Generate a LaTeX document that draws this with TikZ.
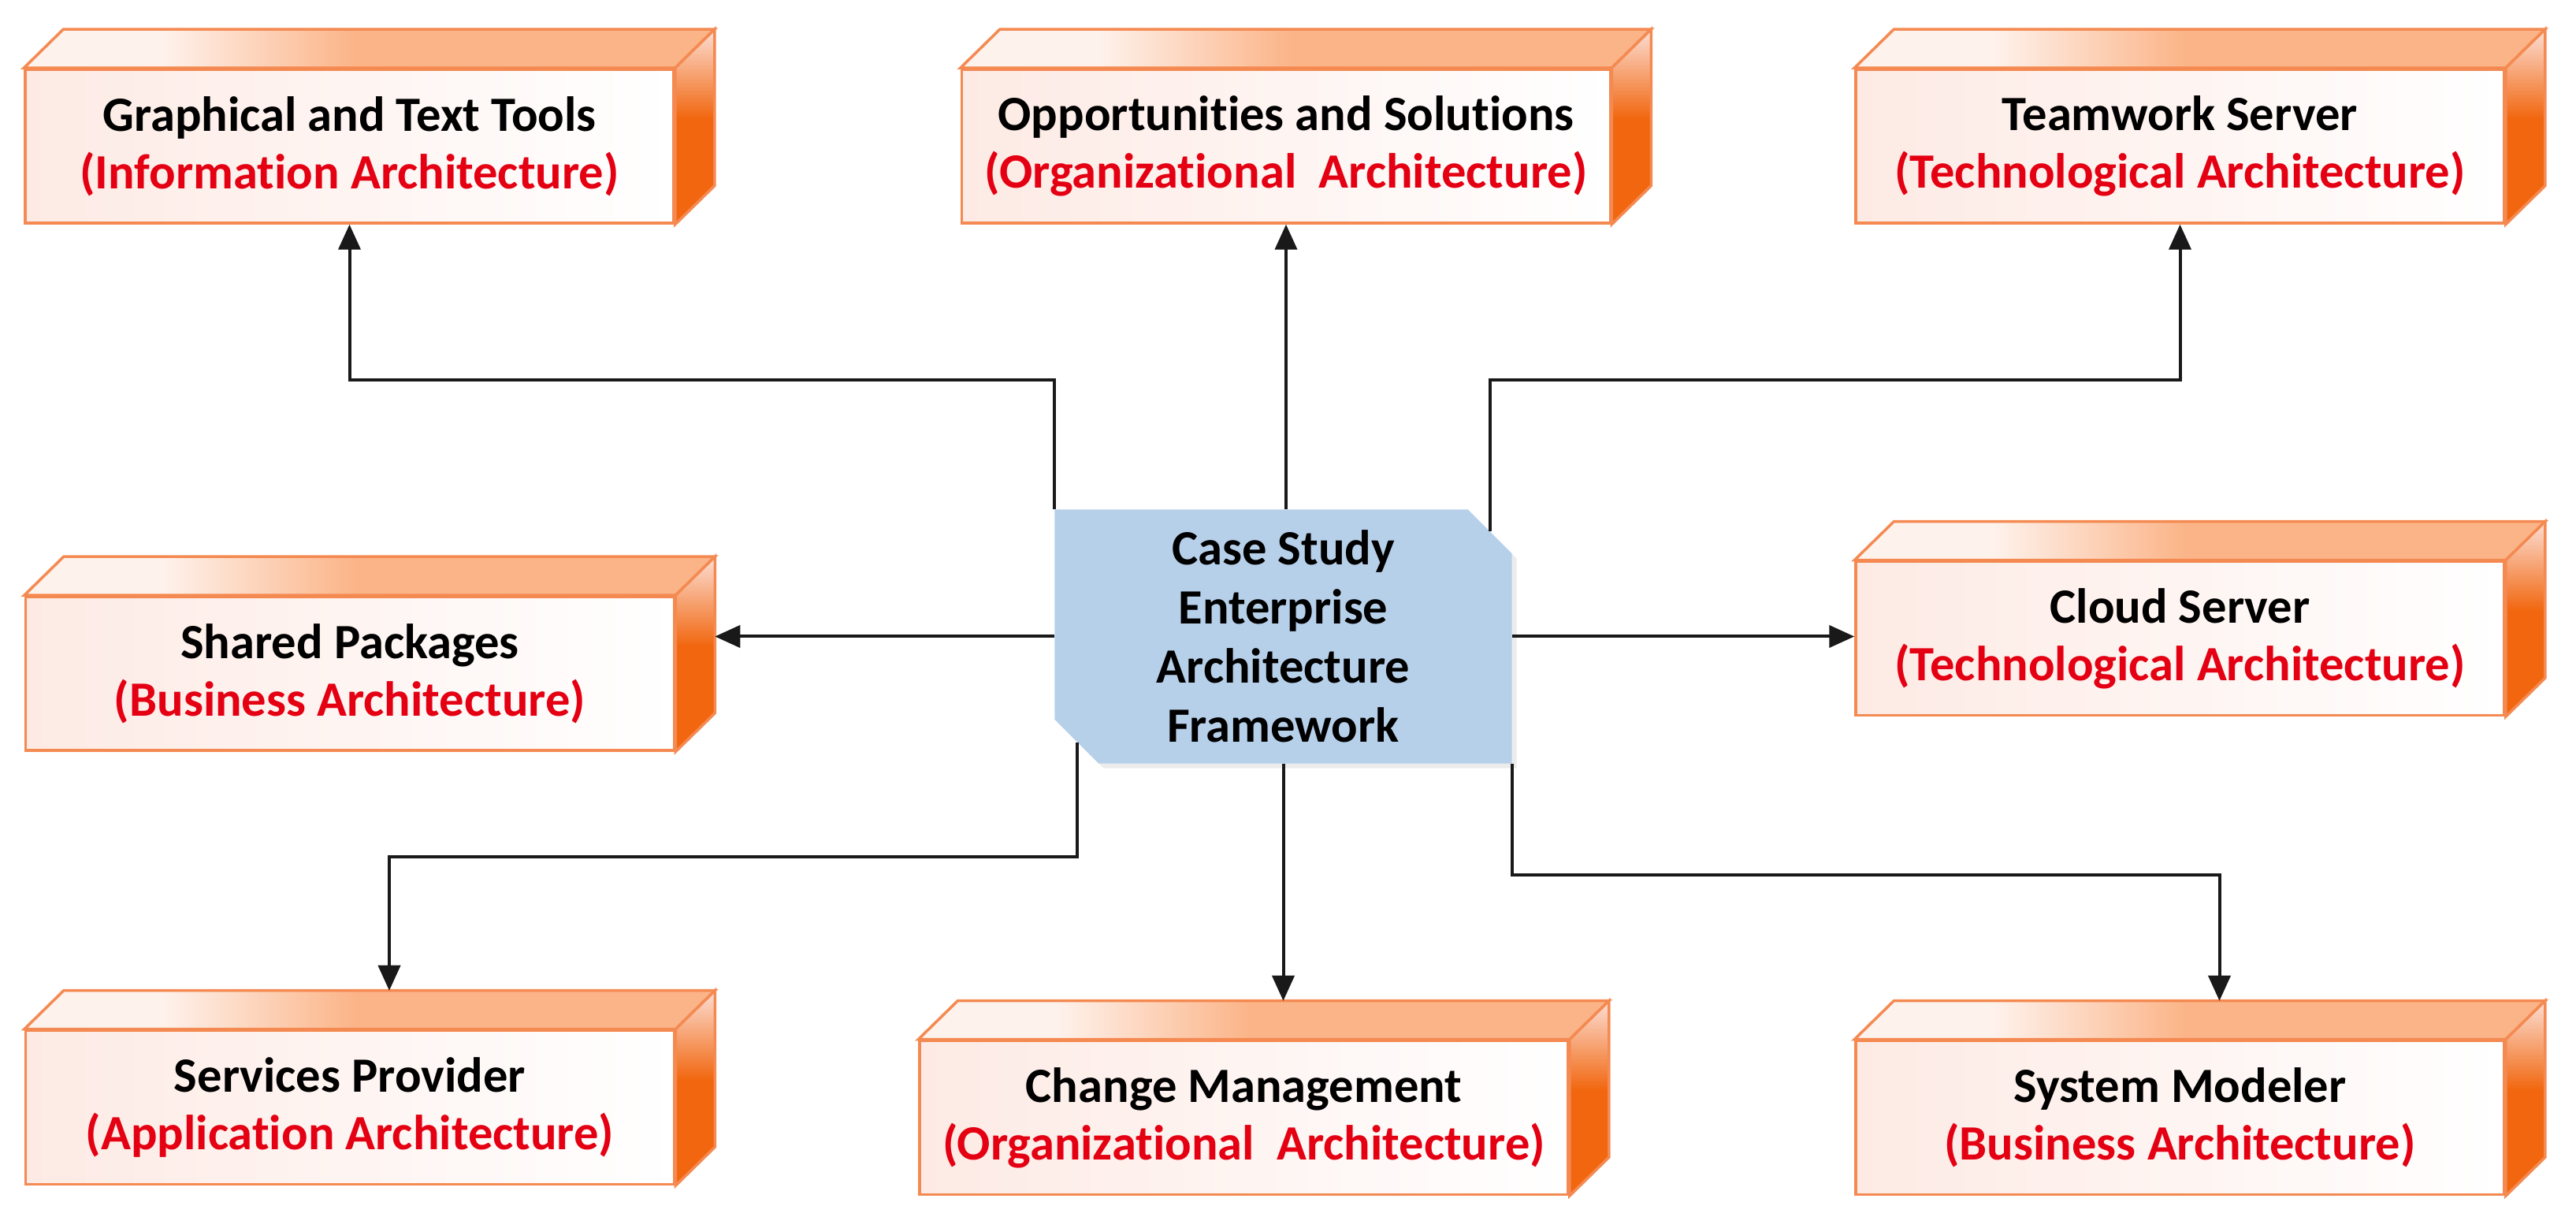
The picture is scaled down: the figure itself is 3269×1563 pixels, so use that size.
\documentclass[tikz,border=0pt]{standalone}
\usepackage{fontspec}
\setmainfont[Ligatures=NoCommon]{Carlito}
\usetikzlibrary{arrows.meta,backgrounds,shadows}
\definecolor{archred}{RGB}{228,0,18}
\definecolor{archedge}{RGB}{244,138,82}
\definecolor{archpeach}{RGB}{251,180,136}
\definecolor{archpale}{RGB}{254,242,236}
\definecolor{archdeep}{RGB}{241,102,14}
\definecolor{archpink}{RGB}{252,222,212}
\definecolor{archfront}{RGB}{253,234,228}
\definecolor{coreblue}{RGB}{183,208,234}
\definecolor{linkgray}{RGB}{25,25,25}
\pgfdeclarehorizontalshading{archtop}{100bp}{color(0bp)=(archpale); color(35bp)=(archpale); color(49bp)=(archpeach); color(100bp)=(archpeach)}
\pgfdeclareverticalshading{archside}{100bp}{color(0bp)=(archdeep); color(52bp)=(archdeep); color(75bp)=(archpink); color(100bp)=(archpink)}
\tikzset{
facebox/.style={draw=archedge, line width=0.35mm, left color=archfront, right color=white,
    minimum width=82.3mm, minimum height=19.5mm, inner sep=0pt, align=center,
    font=\fontsize{17.8pt}{20.8pt}\selectfont\bfseries},
topface/.style={draw=archedge, line width=0.35mm, shade, shading=archtop},
sideface/.style={draw=archedge, line width=0.35mm, shade, shading=archside},
corebox/.style={minimum width=57.9mm, minimum height=32.1mm, inner sep=0pt, align=center,
    font=\fontsize{17.8pt}{21.3pt}\selectfont\bfseries},
corefill/.style={fill=coreblue, drop shadow={opacity=0.15, shadow xshift=0.6mm, shadow yshift=-0.6mm}},
link/.style={draw=linkgray, line width=0.4mm, -{Triangle[length=3.2mm,width=2.8mm]}}
}
% box with top and side faces
\newcommand{\archnode}[5]{%
  \node[facebox] (#1) at (#2,#3) {#4\\\textcolor{archred}{#5}};
  \draw[topface] (#1.north west) -- ++(50,49) -- ([shift={(50,49)}]#1.north east) -- (#1.north east) -- cycle;
  \draw[sideface] (#1.north east) -- ++(50,49) -- ([shift={(50,49)}]#1.south east) -- (#1.south east) -- cycle;
  \coordinate (#1-top) at ([shift={(50,49)}]#1.north);
  \coordinate (#1-side) at ([shift={(50,0)}]#1.east);
}

\begin{document}
\begin{tikzpicture}[x=0.1mm, y=0.1mm]
\useasboundingbox (0,0) rectangle (3269,1563);
% centre
\node[corebox] (core) at (1628.5,755.5) {Case Study\\Enterprise\\Architecture\\Framework};
\begin{scope}[on background layer]
\fill[corefill] (core.north west) -- ([shift={(-56,0)}]core.north east) -- ([shift={(0,-56)}]core.north east)
  -- (core.south east) -- ([shift={(56,0)}]core.south west) -- ([shift={(0,56)}]core.south west) -- cycle;
\end{scope}
% boxes
\archnode{tools}{443.5}{1377.5}{Graphical and Text Tools}{(Information Architecture)}
\archnode{solutions}{1632}{1377.5}{Opportunities and Solutions}{(Organizational\ \ Architecture)}
\archnode{teamwork}{2766.5}{1377.5}{Teamwork Server}{(Technological Architecture)}
\archnode{packages}{444}{708.5}{Shared Packages}{(Business Architecture)}
\archnode{cloud}{2766.5}{753}{Cloud Server}{(Technological Architecture)}
\archnode{provider}{444}{158}{Services Provider}{(Application Architecture)}
\archnode{change}{1578.5}{145}{Change Management}{(Organizational\ \ Architecture)}
\archnode{modeler}{2766.5}{145}{System Modeler}{(Business Architecture)}
% links
\draw[link] (core.north west) -- ++(0,164) -| (tools.south);
\draw[link] (solutions.south |- core.north) -- (solutions.south);
\draw[link] ([shift={(-28,-28)}]core.north east) -- ++(0,192) -| (teamwork.south);
\draw[link] (core.west) -- (core.west -| packages-side);
\draw[link] (core.east) -- (core.east -| cloud.west);
\draw[link] ([shift={(29,27)}]core.south west) -- ++(0,-145) -| (provider-top);
\draw[link] (core.south) -- (change-top);
\draw[link] (core.south east) -- ++(0,-141) -| (modeler-top);
\end{tikzpicture}
\end{document}
